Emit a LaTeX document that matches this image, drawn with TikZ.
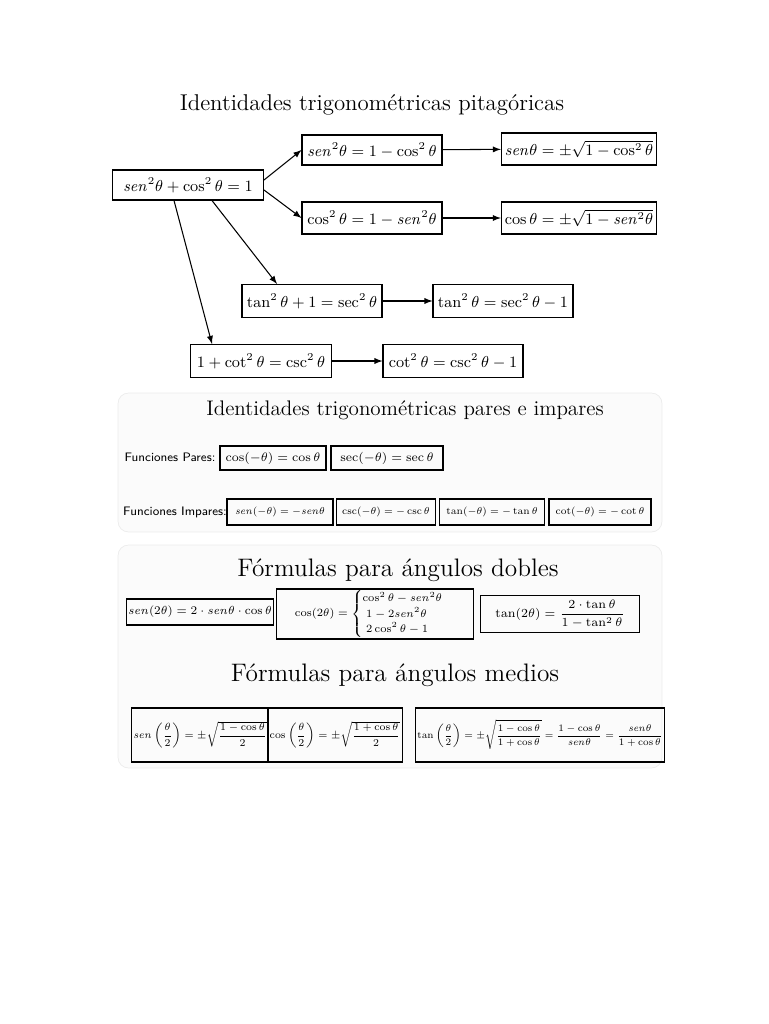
\documentclass[tikz,border=0pt]{standalone}
\usepackage{amsmath}
\usepackage{graphicx}
\usetikzlibrary{positioning}
\newcommand{\fn}[1]{\mathit{#1}}
\tikzset{
  box/.style={draw, semithick, inner sep=2pt, font=\small},
  smallbox/.style={box, font=\scriptsize, inner sep=1pt},
  link/.style={-latex, semithick},
  heading/.style={font=\fontsize{13}{15}\selectfont},
  tag/.style={font=\scriptsize\sffamily},
  panel/.style={draw=gray!15, fill=gray!3, rounded corners=6pt}
}
\begin{document}
\begin{tikzpicture}[x=0.02cm, y=-0.02cm]
\useasboundingbox (0,0) rectangle (768,1024);

% pitagoricas
\node[heading] (t1) at (372,105) {Identidades trigonométricas pitagóricas};
\node[box, minimum width=3.02cm, minimum height=0.6cm] (a) at (188,185) {$\fn{sen}^2\theta+\cos^2\theta=1$};
\node[box, minimum width=2.8cm, minimum height=0.6cm] (b) at (372,150) {$\fn{sen}^2\theta=1-\cos^2\theta$};
\node[box, minimum width=3.1cm, minimum height=0.64cm] (c) at (579,149) {$\fn{sen}\theta=\pm\sqrt{1-\cos^2\theta}$};
\node[box, minimum width=2.8cm, minimum height=0.64cm] (d) at (372,218) {$\cos^2\theta=1-\fn{sen}^2\theta$};
\node[box, minimum width=3.1cm, minimum height=0.64cm] (e) at (579,218) {$\cos\theta=\pm\sqrt{1-\fn{sen}^2\theta}$};
\node[box, minimum width=2.8cm, minimum height=0.66cm] (f) at (312,301) {$\tan^2\theta+1=\sec^2\theta$};
\node[box, minimum width=2.8cm, minimum height=0.66cm] (g) at (503,301) {$\tan^2\theta=\sec^2\theta-1$};
\node[box, minimum width=2.82cm, minimum height=0.66cm] (h) at (261,361) {$1+\cot^2\theta=\csc^2\theta$};
\node[box, minimum width=2.8cm, minimum height=0.66cm] (i) at (453,361) {$\cot^2\theta=\csc^2\theta-1$};

\draw[link] (a.east) ++(0,-5) -- (b.west);
\draw[link] (a.east) ++(0,5) -- (d.west);
\draw[link] ([xshift=24*0.02cm]a.south) -- ([xshift=-35*0.02cm]f.north);
\draw[link] ([xshift=-14*0.02cm]a.south) -- ([xshift=-49*0.02cm]h.north);
\draw[link] (b) -- (c);
\draw[link] (d) -- (e);
\draw[link] (f) -- (g);
\draw[link] (h) -- (i);

% pares e impares
\draw[panel] (118,393) rectangle (662,532);
\node[heading, font=\large] (t2) at (405,410) {Identidades trigonométricas pares e impares};
\node[tag] (lp) at (170,457) {Funciones Pares:};
\node[smallbox, minimum width=2.12cm, minimum height=0.48cm] (p1) at (273,458) {$\cos(-\theta)=\cos\theta$};
\node[smallbox, minimum width=2.24cm, minimum height=0.48cm] (p2) at (387,458) {$\sec(-\theta)=\sec\theta$};
\node[tag] (li) at (175,512) {Funciones Impares:};
\node[smallbox, minimum width=2.12cm, minimum height=0.52cm] (q1) at (280,512) {\scalebox{0.82}{$\fn{sen}(-\theta)=-\fn{sen}\theta$}};
\node[smallbox, minimum width=1.98cm, minimum height=0.52cm] (q2) at (386,512) {\scalebox{0.82}{$\csc(-\theta)=-\csc\theta$}};
\node[smallbox, minimum width=2.1cm, minimum height=0.52cm] (q3) at (492,512) {\scalebox{0.82}{$\tan(-\theta)=-\tan\theta$}};
\node[smallbox, minimum width=2.04cm, minimum height=0.52cm] (q4) at (600,512) {\scalebox{0.82}{$\cot(-\theta)=-\cot\theta$}};

% angulos dobles y medios
\draw[panel] (118,545) rectangle (662,768);
\node[heading, font=\Large] (t3) at (398,570) {Fórmulas para ángulos dobles};
\node[smallbox, minimum width=2.74cm, minimum height=0.52cm] (r1) at (200,612) {\scalebox{0.95}{$\fn{sen}(2\theta)=2\cdot\fn{sen}\theta\cdot\cos\theta$}};
\node[smallbox, minimum width=3.94cm, minimum height=0.96cm] (r2) at (375,614) {\scalebox{0.9}{$\cos(2\theta)=\begin{cases}\cos^2\theta-\fn{sen}^2\theta\\ \;1-2\fn{sen}^2\theta\\ \;2\cos^2\theta-1\end{cases}$}};
\node[smallbox, minimum width=3.18cm, minimum height=0.74cm] (r3) at (560,614) {$\tan(2\theta)=\dfrac{2\cdot\tan\theta}{1-\tan^2\theta}$};

\node[heading, font=\Large] (t4) at (395,675) {Fórmulas para ángulos medios};
\node[smallbox, minimum width=2.74cm, minimum height=1.08cm] (s1) at (200,735) {\scalebox{0.85}{$\fn{sen}\left(\dfrac{\theta}{2}\right)=\pm\sqrt{\dfrac{1-\cos\theta}{2}}$}};
\node[smallbox, minimum width=2.34cm, minimum height=1.08cm] (s2) at (335,735) {\scalebox{0.85}{$\cos\left(\dfrac{\theta}{2}\right)=\pm\sqrt{\dfrac{1+\cos\theta}{2}}$}};
\node[smallbox, minimum width=4.8cm, minimum height=1.08cm] (s3) at (540,735) {\scalebox{0.8}{$\tan\left(\dfrac{\theta}{2}\right)=\pm\sqrt{\dfrac{1-\cos\theta}{1+\cos\theta}}=\dfrac{1-\cos\theta}{\fn{sen}\theta}=\dfrac{\fn{sen}\theta}{1+\cos\theta}$}};
\end{tikzpicture}
\end{document}
